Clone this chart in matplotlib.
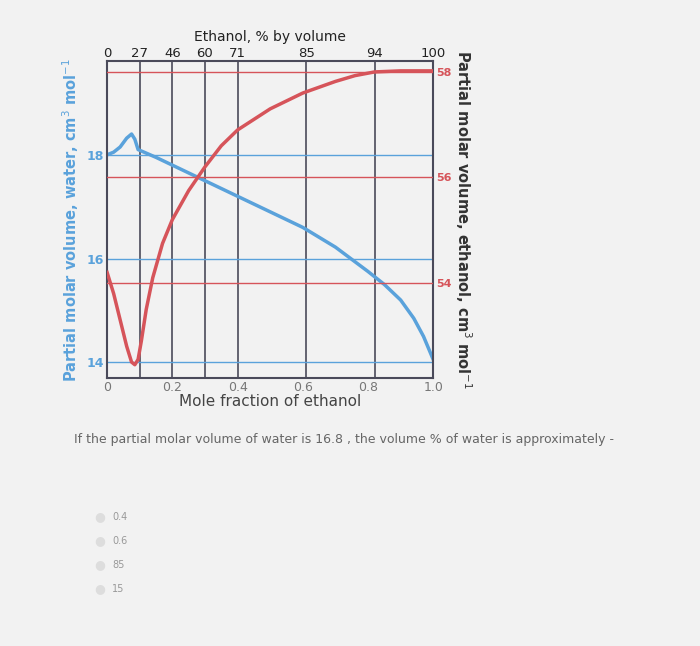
import matplotlib.pyplot as plt

# water partial molar volume (left axis)
x_water = [0, 0.02, 0.04, 0.06, 0.075, 0.085, 0.095, 0.15, 0.2, 0.3, 0.4, 0.5, 0.6, 0.7, 0.8, 0.85, 0.9, 0.94, 0.97, 1.0]
v_water = [18.0, 18.05, 18.15, 18.32, 18.4, 18.3, 18.1, 17.95, 17.8, 17.5, 17.2, 16.9, 16.6, 16.22, 15.75, 15.5, 15.2, 14.85, 14.5, 14.05]
# ethanol partial molar volume (right axis)
x_eth = [0, 0.02, 0.04, 0.06, 0.075, 0.085, 0.095, 0.105, 0.12, 0.14, 0.17, 0.2, 0.25, 0.3, 0.35, 0.4, 0.5, 0.6, 0.7, 0.76, 0.82, 0.9, 1.0]
v_eth = [54.2, 53.8, 53.3, 52.8, 52.5, 52.45, 52.55, 52.9, 53.5, 54.1, 54.75, 55.2, 55.75, 56.2, 56.6, 56.9, 57.3, 57.6, 57.82, 57.93, 58.0, 58.02, 58.02]
# top axis: volume % ethanol at mole fractions
top_pos = [0, 0.1, 0.2, 0.3, 0.4, 0.61, 0.82, 1.0]
top_lab = ['0', '27', '46', '60', '71', '85', '94', '100']
water_ticks = [14, 16, 18]
eth_ticks = [54, 56, 58]
options = ['0.4', '0.6', '85', '15']

blue = '#5aa2db'
red = '#d6545a'
frame = '#4a4a5a'

fig = plt.figure(figsize=(7, 6.46), dpi=100)
fig.patch.set_facecolor('#f2f2f2')
ax = fig.add_axes([0.153, 0.415, 0.466, 0.49])
ax.set_facecolor('#f2f2f2')
ax.set_xlim(0, 1)
ax.set_ylim(13.7, 19.8)
for s in ax.spines.values():
    s.set_color(frame)
    s.set_linewidth(1.5)

for p in top_pos:
    ax.axvline(p, color=frame, lw=1.2)
for t in water_ticks:
    ax.axhline(t, color=blue, lw=1)
ax.plot(x_water, v_water, color=blue, lw=2.5)

ax2 = ax.twinx()
ax2.set_ylim(52.2, 58.2)
for t in eth_ticks:
    ax2.axhline(t, color=red, lw=1)
ax2.plot(x_eth, v_eth, color=red, lw=2.5)

ax.set_yticks(water_ticks)
ax.set_yticklabels([str(t) for t in water_ticks], color=blue, fontsize=9, fontweight='bold')
ax2.set_yticks(eth_ticks)
ax2.set_yticklabels([str(t) for t in eth_ticks], color=red, fontsize=8, fontweight='bold')
ax.set_xticks([0, 0.2, 0.4, 0.6, 0.8, 1.0])
ax.set_xticklabels(['0', '0.2', '0.4', '0.6', '0.8', '1.0'], color='#777777', fontsize=9)
ax.tick_params(length=0, pad=2)
ax2.tick_params(length=0, pad=2)
for s in ax2.spines.values():
    s.set_visible(False)
ax.set_xlabel('Mole fraction of ethanol', fontsize=11, color='#444444', labelpad=0)
ax.set_ylabel('Partial molar volume, water, cm$^3$ mol$^{-1}$', fontsize=10.5, color=blue, fontweight='bold', labelpad=4)
ax2.set_ylabel('Partial molar volume, ethanol, cm$^3$ mol$^{-1}$', fontsize=10.5, color='#333333',
               fontweight='bold', rotation=-90, labelpad=16)

top = ax.secondary_xaxis('top')
top.set_xticks(top_pos)
top.set_xticklabels(top_lab, fontsize=9.5, color='#222222')
top.tick_params(length=0, pad=1)
top.spines['top'].set_visible(False)
top.set_xlabel('Ethanol, % by volume', fontsize=10, color='#222222', labelpad=4)

fig.text(0.105, 0.315, 'If the partial molar volume of water is 16.8 , the volume % of water is approximately -',
         fontsize=9, color='#666666')
for i, o in enumerate(options):
    y = 0.2 - i * 0.037
    fig.text(0.135, y, '\u25cf', fontsize=9, color='#dddddd', va='center')
    fig.text(0.16, y, o, fontsize=7, color='#999999', va='center')

fig.savefig('out.png', dpi=100, facecolor=fig.get_facecolor())
